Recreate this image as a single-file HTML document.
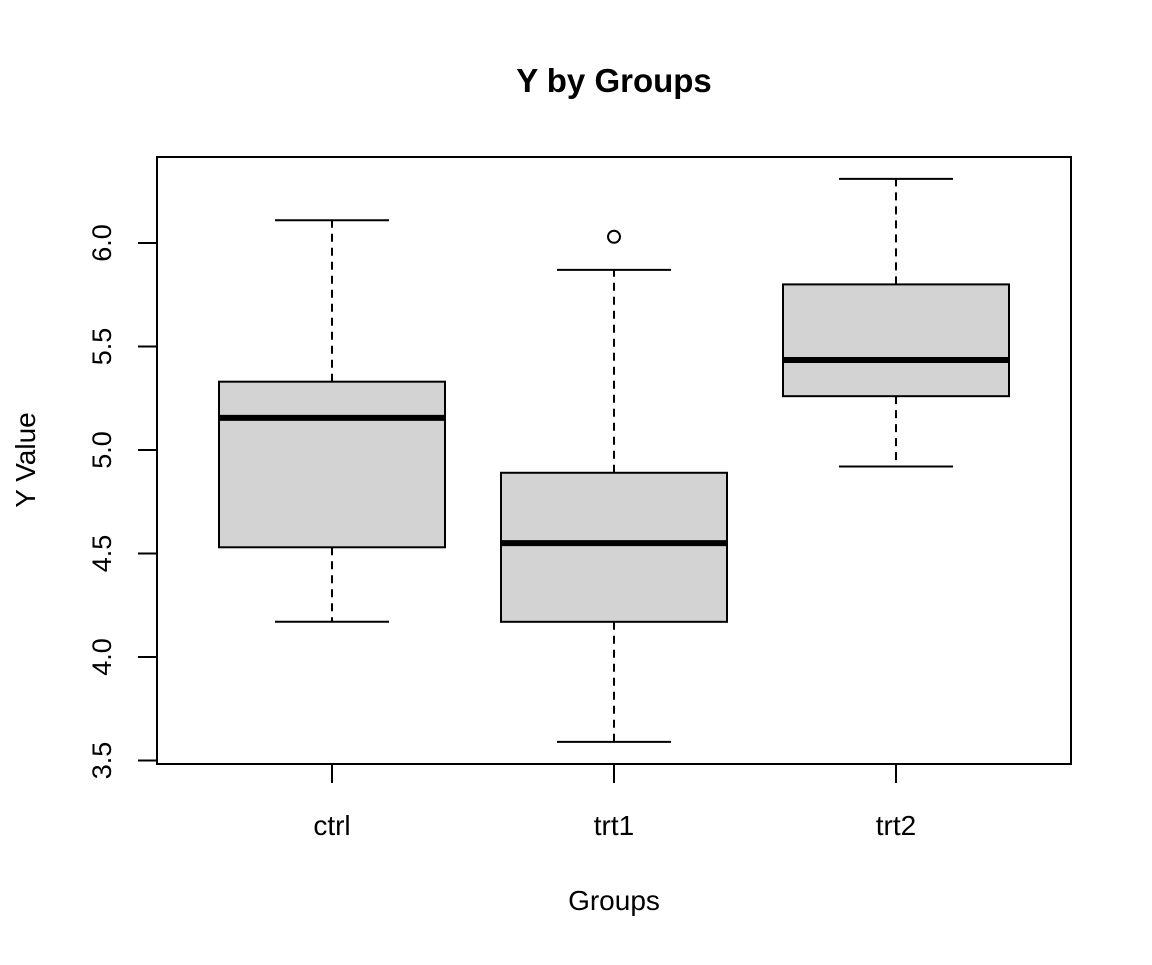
<!DOCTYPE html>
<html><head><meta charset="utf-8"><style>
body{margin:0;background:#fff}
svg text{font-family:"Liberation Sans",Arial,sans-serif;fill:#000}
</style></head><body>
<svg id="c" width="1152" height="960" xmlns="http://www.w3.org/2000/svg">
<rect width="1152" height="960" fill="#fff"/>
<text x="614" y="92" font-size="33" font-weight="bold" text-anchor="middle">Y by Groups</text>
<rect x="157" y="157" width="914" height="607" fill="none" stroke="#000" stroke-width="2"/>
<text x="614" y="910" font-size="28" text-anchor="middle">Groups</text>
<text transform="translate(35,460) rotate(-90)" font-size="28" text-anchor="middle">Y Value</text>
<g id="g"></g>
</svg>
<script>
const categories=["ctrl","trt1","trt2"];
const mins=[4.17,3.59,4.92];
const q1s=[4.53,4.17,5.26];
const medians=[5.155,4.55,5.435];
const q3s=[5.33,4.89,5.80];
const maxs=[6.11,5.87,6.31];
const outlierGroup=[1];
const outlierValue=[6.03];
const yTicks=["3.5","4.0","4.5","5.0","5.5","6.0"];
const NS="http://www.w3.org/2000/svg";
const g=document.getElementById('g');
function y(v){return 243+(6.0-v)*207;}
function x(i){return 332+i*282;}
function mk(t,a,p){const e=document.createElementNS(NS,t);for(const k in a)e.setAttribute(k,a[k]);(p||g).appendChild(e);return e;}
mk('line',{x1:157,x2:157,y1:y(3.5),y2:y(6.0),stroke:'#000','stroke-width':2});
yTicks.forEach(t=>{const v=+t;
const l=mk('line',{x1:138,x2:157,y1:y(v),y2:y(v),stroke:'#000','stroke-width':2});


const tx=mk('text',{transform:`translate(111,${y(v)}) rotate(-90)`,'font-size':27,'text-anchor':'middle'});
tx.textContent=t;

});
categories.forEach((c,i)=>{const cx=x(i),hw=113,ww=57;
const grp=mk('g',{});


mk('line',{x1:cx,x2:cx,y1:y(q3s[i]),y2:y(maxs[i]),stroke:'#000','stroke-width':2,'stroke-dasharray':'8,6'},grp);
mk('line',{x1:cx,x2:cx,y1:y(q1s[i]),y2:y(mins[i]),stroke:'#000','stroke-width':2,'stroke-dasharray':'8,6'},grp);
mk('line',{x1:cx-ww,x2:cx+ww,y1:y(maxs[i]),y2:y(maxs[i]),stroke:'#000','stroke-width':2},grp);
mk('line',{x1:cx-ww,x2:cx+ww,y1:y(mins[i]),y2:y(mins[i]),stroke:'#000','stroke-width':2},grp);
mk('rect',{x:cx-hw,y:y(q3s[i]),width:2*hw,height:y(q1s[i])-y(q3s[i]),fill:'#d3d3d3',stroke:'#000','stroke-width':2},grp);
mk('line',{x1:cx-hw,x2:cx+hw,y1:y(medians[i]),y2:y(medians[i]),stroke:'#000','stroke-width':6},grp);
mk('line',{x1:cx,x2:cx,y1:764,y2:783,stroke:'#000','stroke-width':2},grp);
const t=mk('text',{x:cx,y:835,'font-size':28,'text-anchor':'middle'});
t.textContent=c;

});
outlierGroup.forEach((gi,k)=>{const o=mk('circle',{cx:x(gi),cy:y(outlierValue[k]),r:6,fill:'none',stroke:'#000','stroke-width':2});

});
</script>
</body></html>
